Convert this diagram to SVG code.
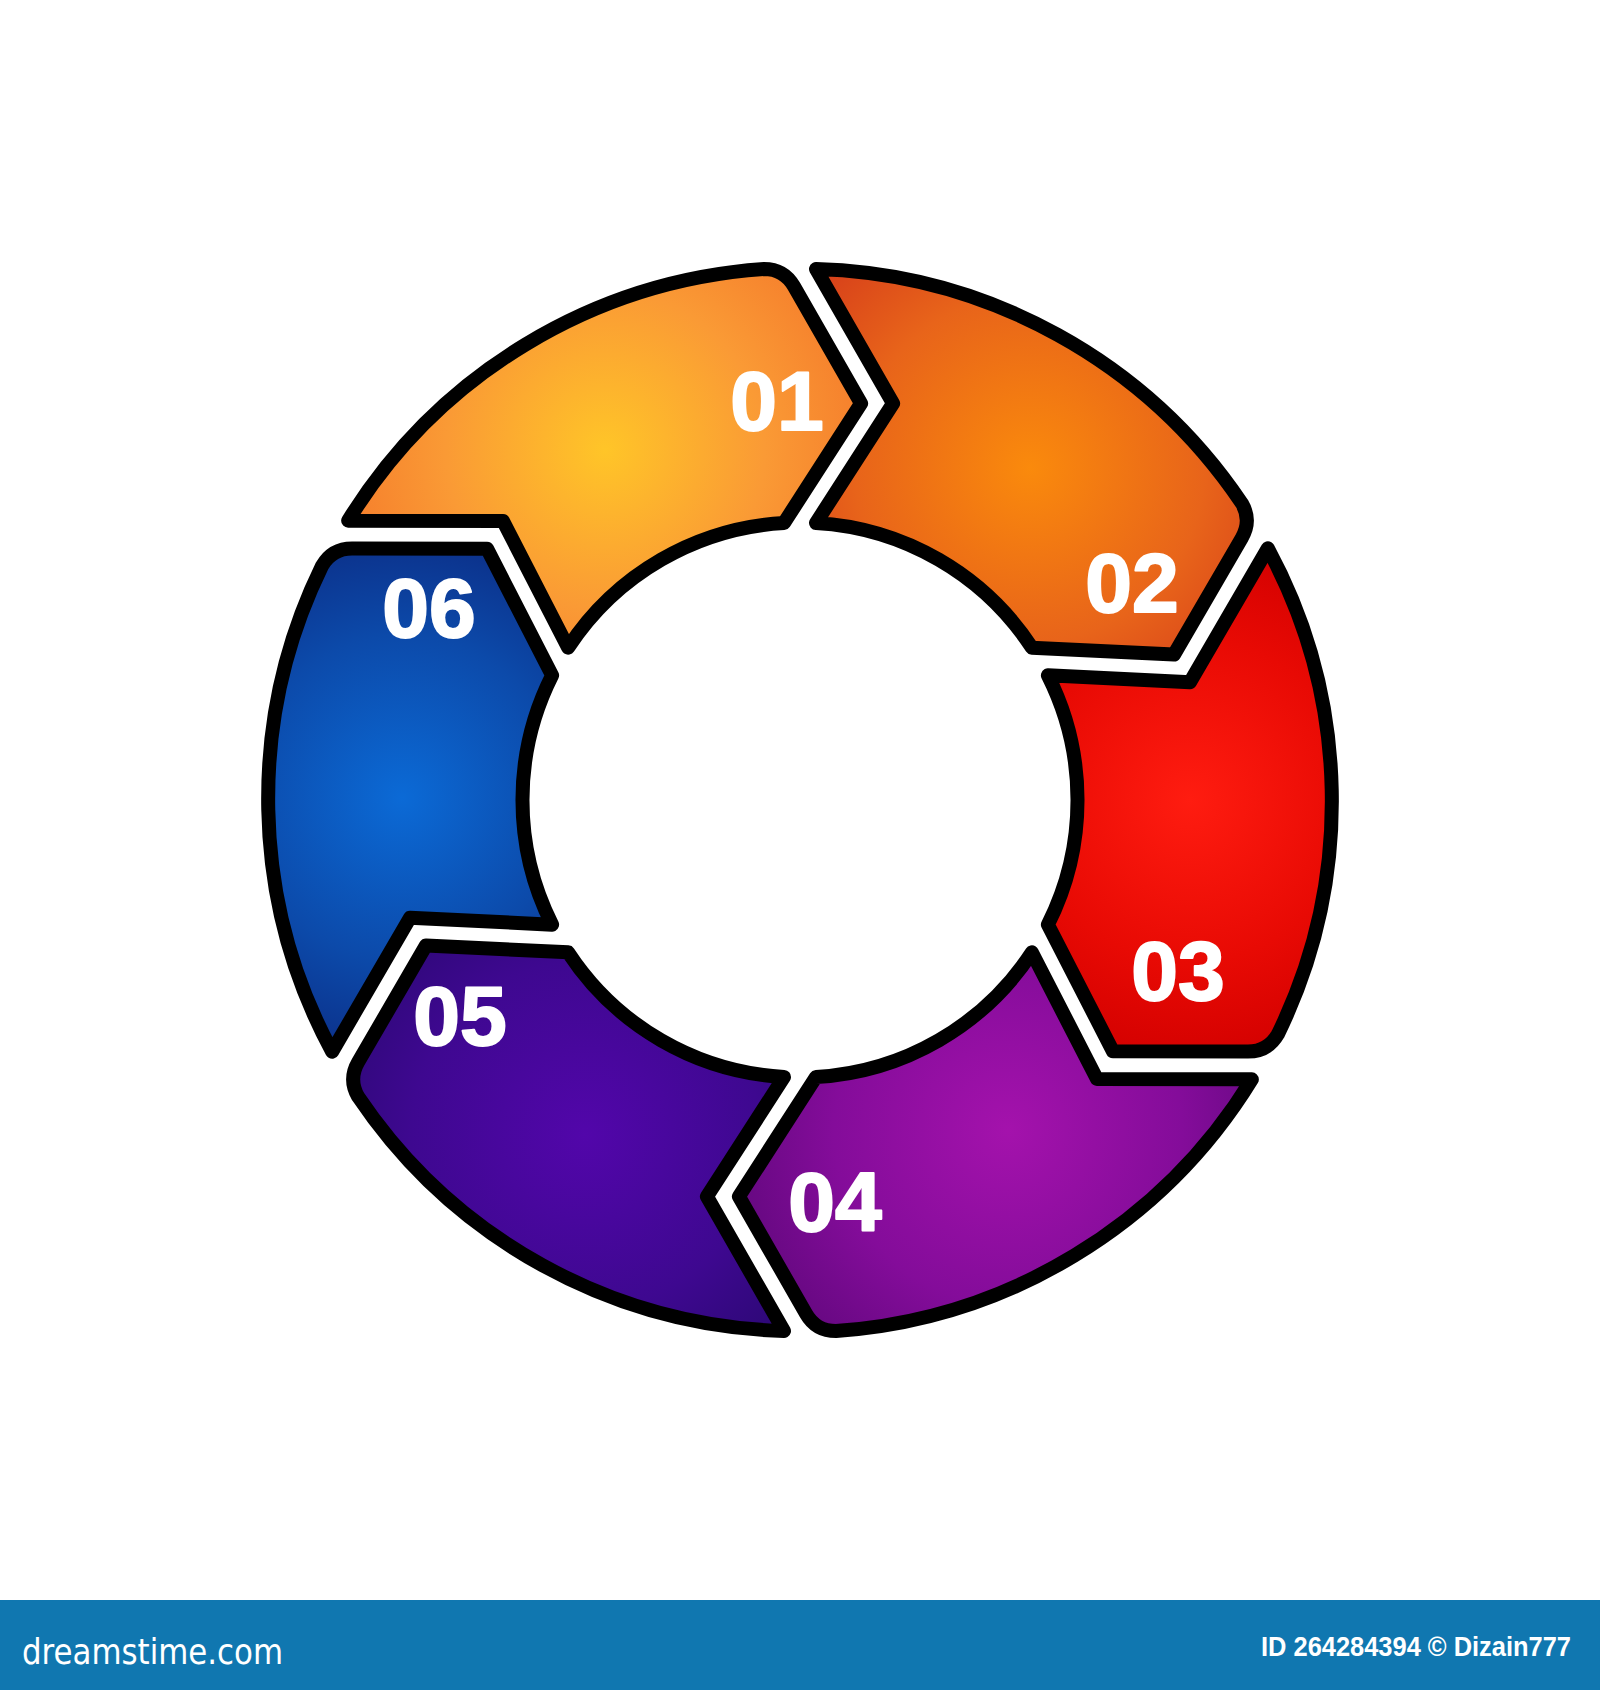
<svg xmlns="http://www.w3.org/2000/svg" width="1600" height="1690" viewBox="0 0 1600 1690">
<defs>
<radialGradient id="g1" gradientUnits="userSpaceOnUse" cx="605" cy="450" r="290"><stop offset="0" stop-color="#ffc528"/><stop offset="0.55" stop-color="#fa9a35"/><stop offset="1" stop-color="#f4782a"/></radialGradient>
<radialGradient id="g2" gradientUnits="userSpaceOnUse" cx="1030" cy="468" r="290"><stop offset="0" stop-color="#fa8a0c"/><stop offset="0.6" stop-color="#e8641a"/><stop offset="1" stop-color="#d63e1a"/></radialGradient>
<radialGradient id="g3" gradientUnits="userSpaceOnUse" cx="1190" cy="800" r="270"><stop offset="0" stop-color="#ff1c10"/><stop offset="0.6" stop-color="#e80a04"/><stop offset="1" stop-color="#d20000"/></radialGradient>
<radialGradient id="g4" gradientUnits="userSpaceOnUse" cx="1008" cy="1130" r="290"><stop offset="0" stop-color="#a412ac"/><stop offset="0.6" stop-color="#840c9a"/><stop offset="1" stop-color="#62087e"/></radialGradient>
<radialGradient id="g5" gradientUnits="userSpaceOnUse" cx="585" cy="1135" r="290"><stop offset="0" stop-color="#5206aa"/><stop offset="0.6" stop-color="#3e0890"/><stop offset="1" stop-color="#2a0872"/></radialGradient>
<radialGradient id="g6" gradientUnits="userSpaceOnUse" cx="402" cy="798" r="270"><stop offset="0" stop-color="#0b6ad6"/><stop offset="0.6" stop-color="#0c4aaa"/><stop offset="1" stop-color="#0c2f88"/></radialGradient>
<style>
.seg{stroke:#000;stroke-width:14;stroke-linejoin:round}
.num{font-family:"Liberation Sans",Arial,sans-serif;font-weight:bold;font-size:84px;fill:#fff;text-anchor:middle;stroke:#fff;stroke-width:2;stroke-linejoin:round}
</style>
</defs>
<rect width="1600" height="1690" fill="#fff"/>
<g id="node-01">
<path class="seg" fill="url(#g1)" d="M348.14,520.64 A531,531 0 0 1 764,269 Q784,269 793.95,286.35 L861.1,403.4 L784,523 A277,277 0 0 0 568.11,647.64 L503.1,521.09 Z"/>
<text class="num" x="777" y="430">01</text>
</g>
<g id="node-02">
<path class="seg" fill="url(#g2)" d="M816,269 A531,531 0 0 1 1241.86,503.32 Q1251.86,520.64 1241.81,537.94 L1173.99,654.61 L1031.89,647.64 A277,277 0 0 0 816,523 L893.1,403.4 Z"/>
<text class="num" x="1132" y="612">02</text>
</g>
<g id="node-03">
<path class="seg" fill="url(#g3)" d="M1267.86,548.36 A531,531 0 0 1 1277.86,1034.32 Q1267.86,1051.64 1247.85,1051.58 L1112.9,1051.19 L1047.89,924.64 A277,277 0 0 0 1047.89,675.36 L1189.99,682.33 Z"/>
<text class="num" x="1178" y="1000">03</text>
</g>
<g id="node-04">
<path class="seg" fill="url(#g4)" d="M1251.86,1079.36 A531,531 0 0 1 836,1331 Q816,1331 806.05,1313.65 L738.91,1196.58 L816,1077 A277,277 0 0 0 1031.89,952.36 L1096.9,1078.91 Z"/>
<text class="num" x="835" y="1231">04</text>
</g>
<g id="node-05">
<path class="seg" fill="url(#g5)" d="M784,1331 A531,531 0 0 1 358.14,1096.68 Q348.14,1079.36 358.19,1062.06 L426.01,945.39 L568.11,952.36 A277,277 0 0 0 784,1077 L706.91,1196.58 Z"/>
<text class="num" x="460" y="1045">05</text>
</g>
<g id="node-06">
<path class="seg" fill="url(#g6)" d="M332.14,1051.64 A531,531 0 0 1 322.14,565.68 Q332.14,548.36 352.15,548.42 L487.1,548.81 L552.11,675.36 A277,277 0 0 0 552.11,924.64 L410.01,917.67 Z"/>
<text class="num" x="429" y="637">06</text>
</g>
<g id="connectors"></g>
<g id="footer">
<rect x="0" y="1600" width="1600" height="90" fill="#1077b0"/>
<text x="22" y="1664" font-family="DejaVu Sans, sans-serif" font-size="36" fill="#fff" textLength="261" lengthAdjust="spacingAndGlyphs">dreamstime.com</text>
<text x="1571" y="1656" font-family="Liberation Sans, Arial, sans-serif" font-weight="bold" font-size="27" fill="#fff" text-anchor="end" textLength="310" lengthAdjust="spacingAndGlyphs">ID 264284394 © Dizain777</text>
</g>
</svg>
